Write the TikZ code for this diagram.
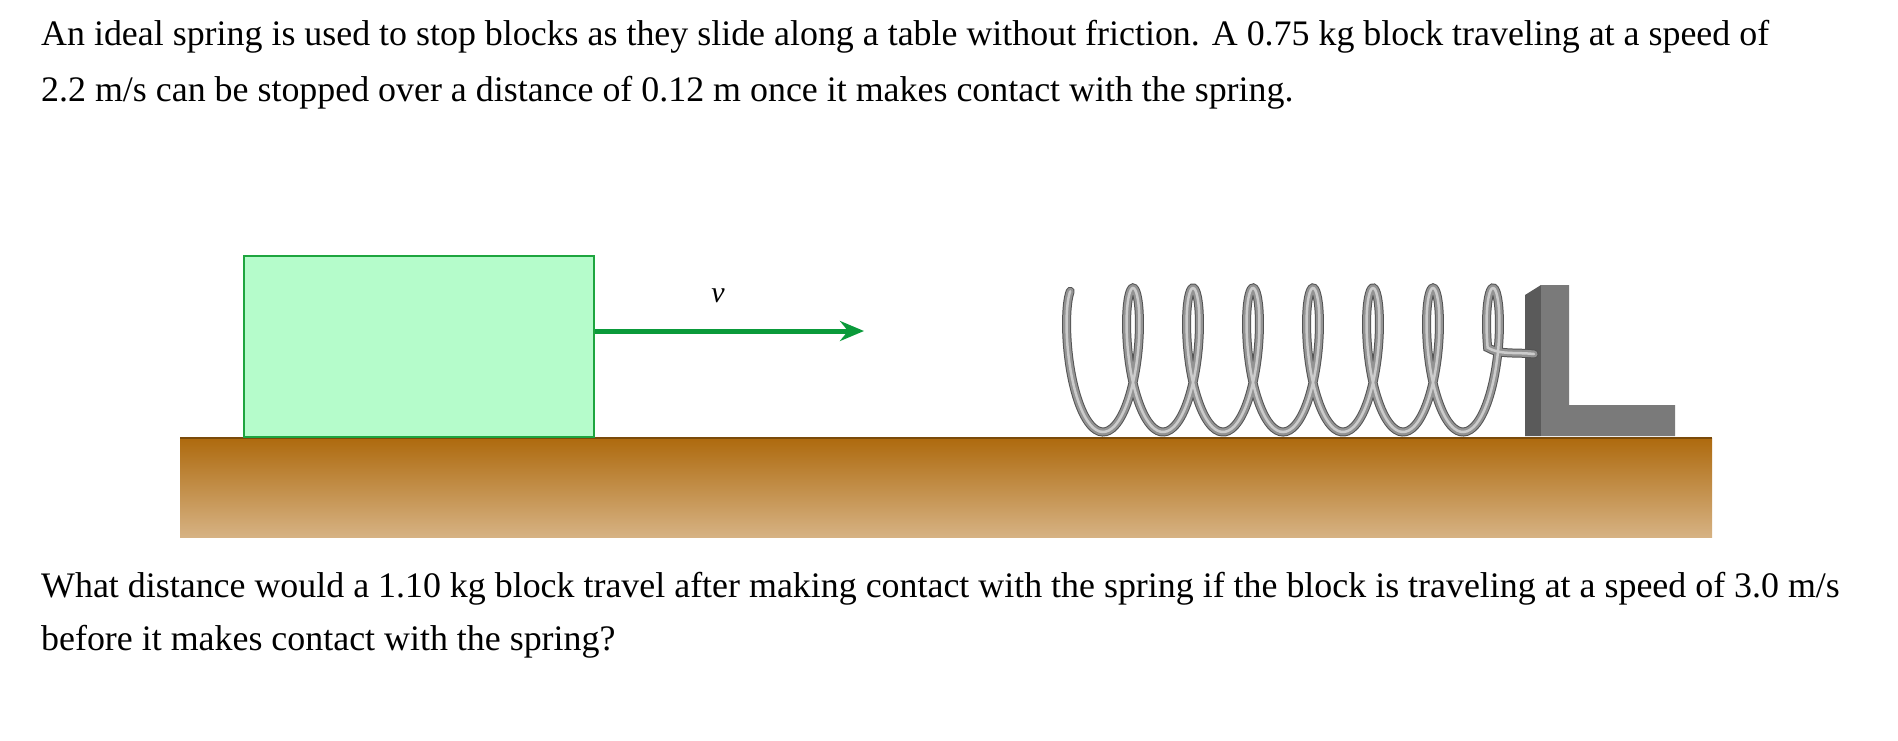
\documentclass[tikz,border=0pt]{standalone}
\usepackage{fontspec}
\setmainfont{Liberation Serif}
\usetikzlibrary{arrows.meta}
\definecolor{blockfill}{HTML}{B5FCCB}
\definecolor{blockdraw}{HTML}{1EA53F}
\definecolor{arrowgreen}{HTML}{0A9A3A}
\definecolor{tabletop}{HTML}{AE6A0E}
\definecolor{tablebot}{HTML}{D6B283}
\definecolor{walldark}{HTML}{5A5A5A}
\definecolor{walllight}{HTML}{7A7A7A}
\begin{document}
\begin{tikzpicture}[x=1pt,y=-1pt,
  txt/.style={anchor=base west,inner sep=0pt,font=\fontsize{35.9}{56}\selectfont}]
\useasboundingbox (0,0) rectangle (1898,740);
\node[txt] (l1) at (41,45) {An ideal spring is used to stop blocks as they slide along a table without friction. A 0.75 kg block traveling at a speed of};
\node[txt] (l2) at (41,101) {2.2 m/s can be stopped over a distance of 0.12 m once it makes contact with the spring.};
\node[txt] (l3) at (41,597) {What distance would a 1.10 kg block travel after making contact with the spring if the block is traveling at a speed of 3.0 m/s};
\node[txt] (l4) at (41,650) {before it makes contact with the spring?};
% table
\shade[top color=tabletop,bottom color=tablebot] (180,438) rectangle (1712,537);
\draw[tabletop!70!black,line width=1.2] (180,438) -- (1712,438);
% block
\node[draw=blockdraw,fill=blockfill,line width=1.5,minimum width=350,minimum height=181,inner sep=0,anchor=north west] (blk) at (243,255) {};
\coordinate (tip) at (864,331);
\draw[arrowgreen,line width=5,-{Stealth[length=24,width=20,inset=8]}] (blk.east |- tip) -- (tip);
\node[font=\fontsize{30}{34}\selectfont\itshape] (v) at (718,296) {v};
% wall
\fill[walldark] (1525,295) -- (1541,285) -- (1541,436) -- (1525,436) -- cycle;
\fill[walllight] (1541,285) -- (1569,285) -- (1569,405) -- (1675,405) -- (1675,436) -- (1541,436) -- cycle;
% spring
\foreach \w/\c in {9/gray!65!black,7/gray!85,2.5/gray!40}{
\draw[\c,line width=\w,line cap=round] plot[smooth,domain=-5.98:39.1,samples=400]
  ({1133+9.549*\x-19*sin(\x r)},{360-72*cos(\x r)})
  .. controls (1500,355) and (1515,352) .. (1534,354);
}
\end{tikzpicture}
\end{document}
